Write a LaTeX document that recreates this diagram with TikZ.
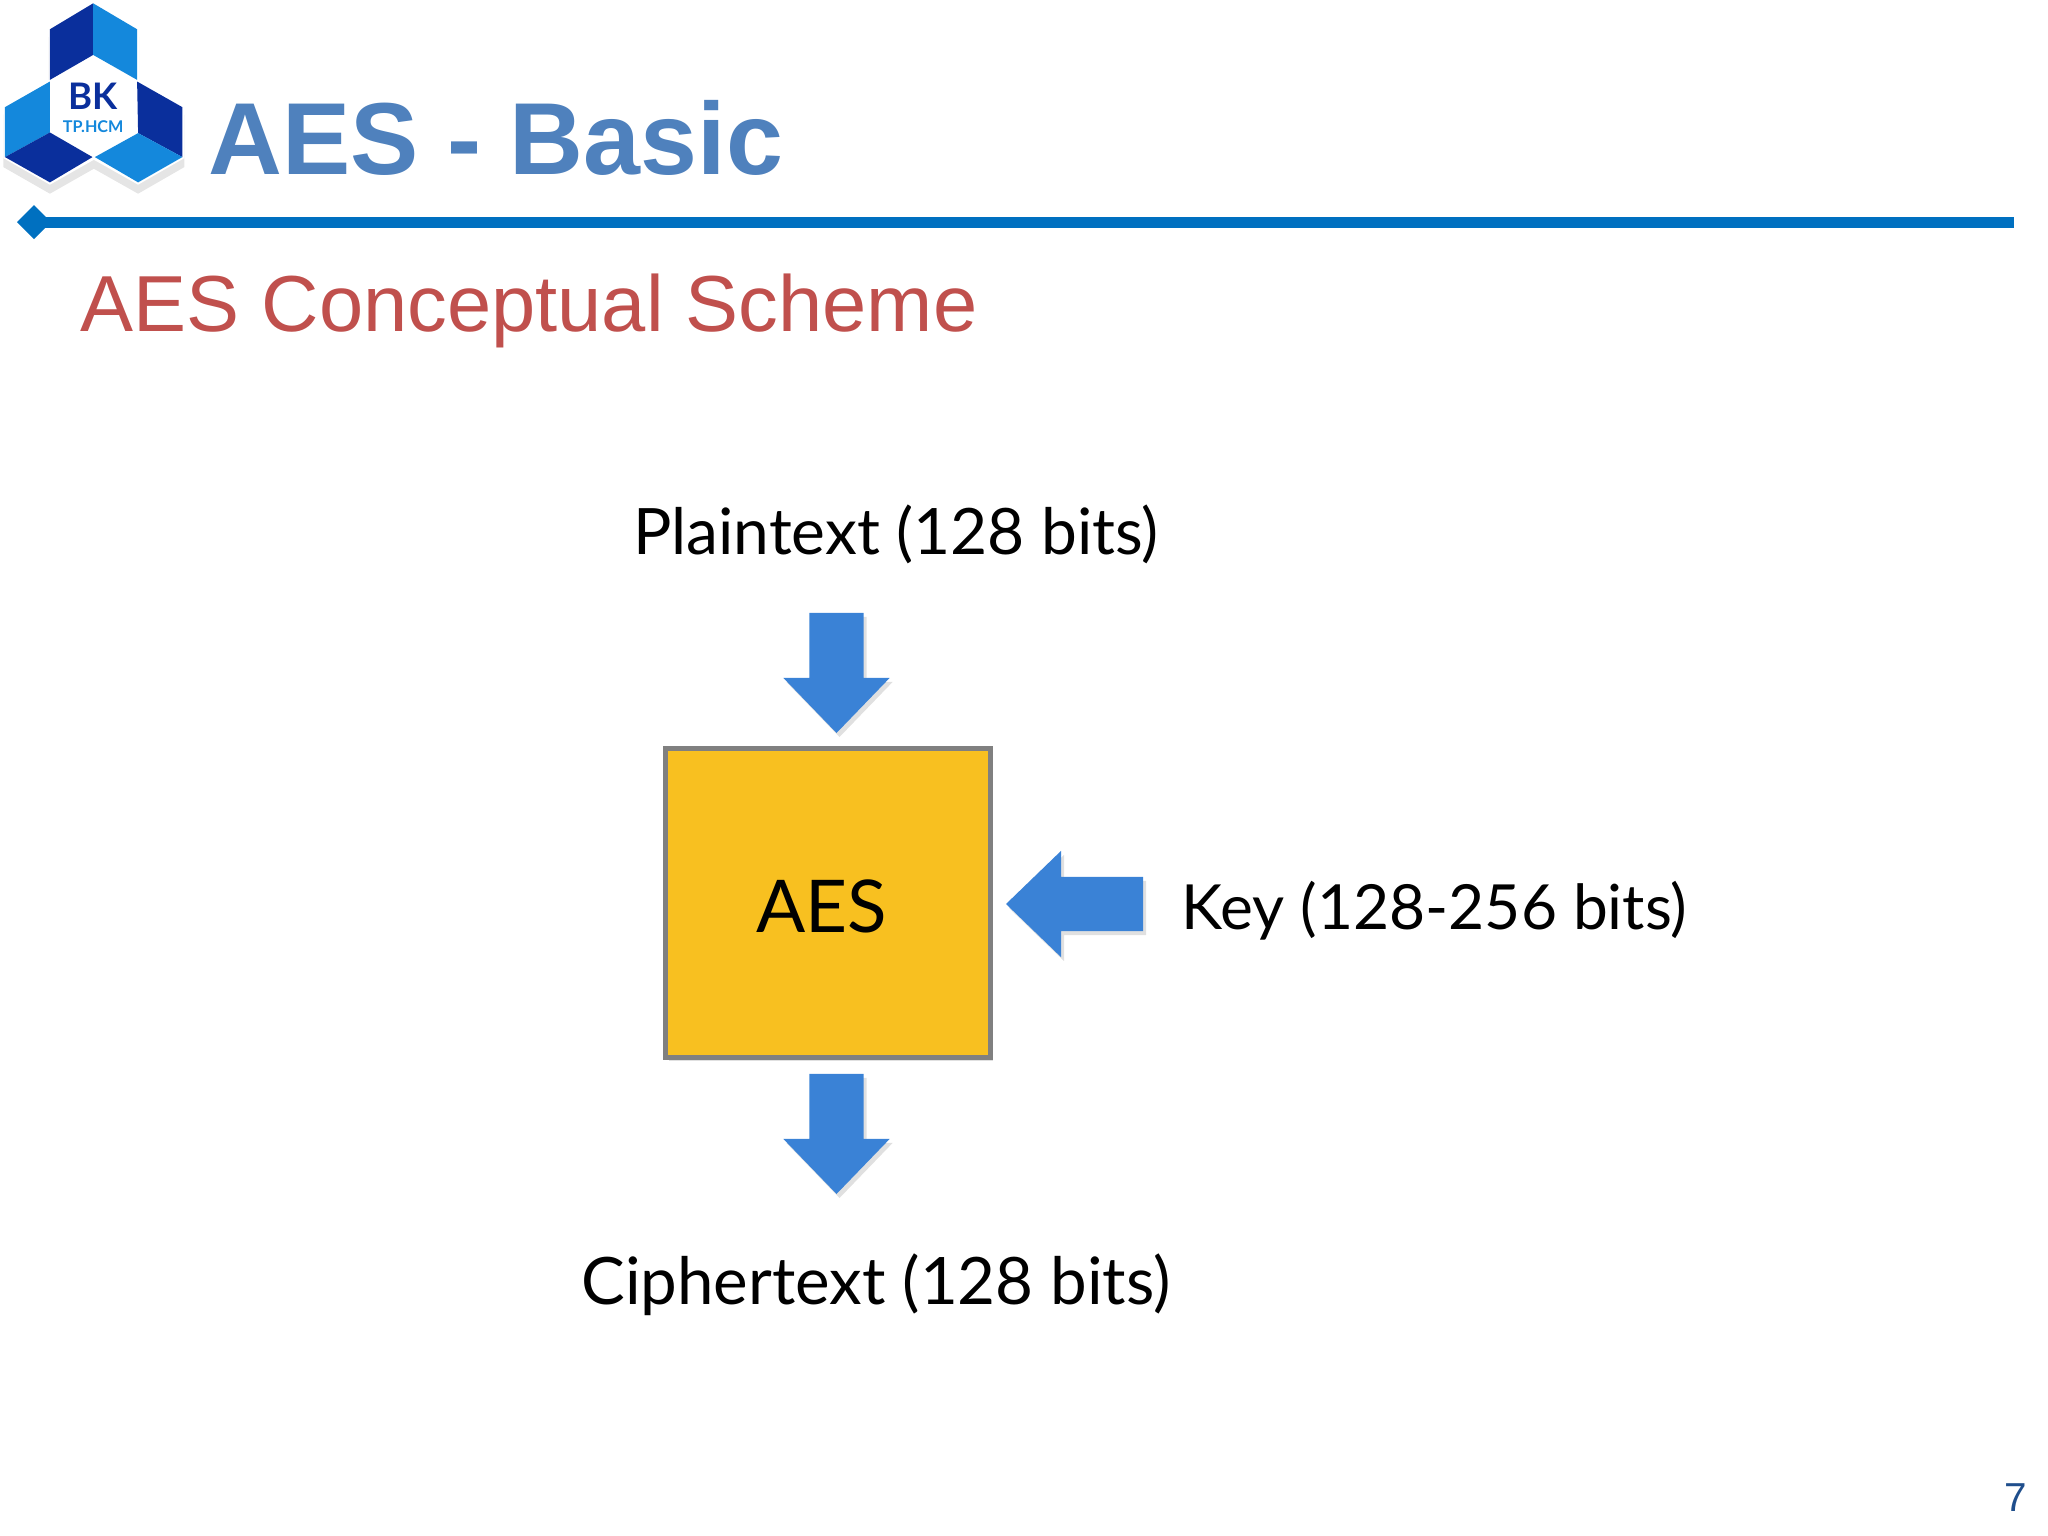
\documentclass[tikz,border=0pt]{standalone}
\usepackage{fontspec}
\setmainfont{Liberation Sans}
\newfontfamily\labelfont{Lato}
\usetikzlibrary{shapes.arrows,shadows}
\definecolor{titleblue}{HTML}{4F81BD}
\definecolor{subtitlered}{HTML}{C0504D}
\definecolor{rulecolor}{HTML}{0070C0}
\definecolor{arrowblue}{HTML}{3A82D6}
\definecolor{boxyellow}{HTML}{F8C020}
\definecolor{boxgray}{HTML}{808080}
\definecolor{logodark}{HTML}{0A2F9C}
\definecolor{logolight}{HTML}{1488DC}
\definecolor{pagecolor}{HTML}{1F4E8C}
\begin{document}
\begin{tikzpicture}[x=0.01cm,y=-0.01cm,
   softshadow/.style={drop shadow={shadow xshift=0.03cm,shadow yshift=-0.04cm,opacity=.12,fill=black}},
   logoshadow/.style={drop shadow={shadow xshift=0cm,shadow yshift=-0.09cm,opacity=.1,fill=black}},
   blockarrow/.style={single arrow,fill=arrowblue,inner xsep=0pt,inner ysep=0.265cm,minimum height=1.2cm,
      single arrow head extend=0.26cm,single arrow tip angle=88,single arrow head indent=0cm,softshadow},
   title/.style={anchor=base west,inner sep=0pt,text=titleblue,font=\fontsize{29.1}{30}\selectfont\bfseries},
   subtitle/.style={anchor=base west,inner sep=0pt,text=subtitlered,font=\fontsize{22.6}{24}\selectfont},
   label/.style={anchor=base,inner sep=0pt,font=\labelfont\fontsize{18.2}{22}\selectfont}]
\useasboundingbox (0,0) rectangle (2048,1536);

\begin{scope}[x=0.003333cm,y=-0.003333cm]
\fill[white,logoshadow] (280,3) -- (418,85) -- (418,240) -- (554,318) -- (554,475) -- (415,555)
   -- (282,480) -- (150,555) -- (10,475) -- (10,318) -- (145,240) -- (145,85) -- cycle;
\fill[logodark] (280,10) -- (150,88) -- (150,240) -- (280,165) -- cycle;
\fill[logolight] (280,10) -- (412,88) -- (412,240) -- (280,165) -- cycle;
\fill[logodark] (412,245) -- (548,322) -- (548,472) -- (415,400) -- cycle;
\fill[logolight] (415,400) -- (548,472) -- (415,548) -- (285,472) -- cycle;
\fill[logolight] (150,245) -- (15,322) -- (15,472) -- (150,398) -- cycle;
\fill[logodark] (15,472) -- (150,398) -- (278,472) -- (150,548) -- cycle;
\node[inner sep=0pt,text=logodark,font=\labelfont\fontsize{10.4}{12}\selectfont\bfseries] (bk) at (280,288) {BK};
\node[inner sep=0pt,text=logolight,font=\labelfont\fontsize{4.6}{6}\selectfont\bfseries] (hcm) at (280,382) {TP.HCM};
\end{scope}

\fill[rulecolor] (45,217) rectangle (2014,228);
\fill[rulecolor] (17,222) -- (34,205) -- (51,222) -- (34,239) -- cycle;

\node[title] (heading) at (208,174) {AES - Basic};
\node[subtitle] (scheme) at (80,331) {AES Conceptual Scheme};

\node[draw=boxgray,fill=boxyellow,line width=0.05cm,minimum width=3.24cm,minimum height=3.08cm,inner sep=0pt,softshadow] (aes) at (828,903) {};
\node[label,font=\labelfont\fontsize{20.7}{24}\selectfont] (aestext) at (822,932) {AES};

\node[blockarrow,rotate=-90,anchor=tip] (arrowin) at (836.5,734) {};
\node[blockarrow,rotate=-90,anchor=tip] (arrowout) at (836.5,1195) {};
\node[blockarrow,rotate=180,anchor=tip,minimum height=1.37cm] (arrowkey) at (1005,904) {};

\node[label] (plaintext) at (896,554) {Plaintext (128 bits)};
\node[label,anchor=base west,font=\labelfont\fontsize{17.7}{22}\selectfont] (key) at (1181,929) {Key (128-256 bits)};
\node[label,font=\labelfont\fontsize{18.6}{22}\selectfont] (ciphertext) at (876,1304) {Ciphertext (128 bits)};

\node[anchor=base,inner sep=0pt,text=pagecolor,font=\fontsize{11.5}{13}\selectfont] (pagenum) at (2016,1511) {7};
\end{tikzpicture}
\end{document}
